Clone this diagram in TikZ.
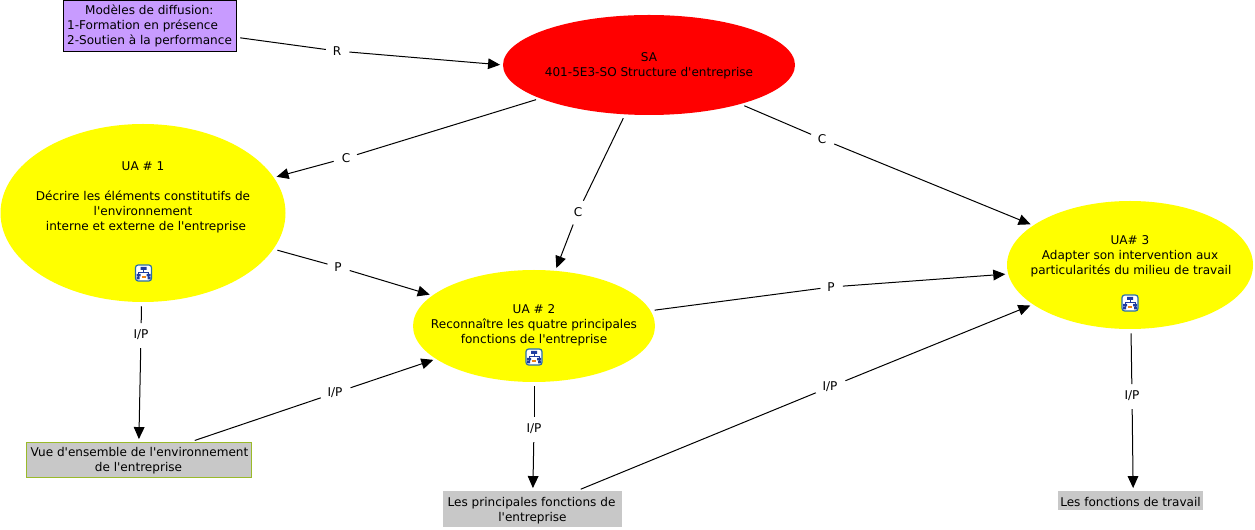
\documentclass[tikz,border=0pt]{standalone}
\usepackage{fontspec}
\newfontfamily\mapfont{DejaVu Sans}
\usetikzlibrary{arrows.meta,shapes.geometric}
\definecolor{jaune}{RGB}{255,255,0}
\definecolor{rouge}{RGB}{255,0,0}
\definecolor{mauve}{RGB}{200,155,255}
\definecolor{grise}{RGB}{200,200,200}
\definecolor{olive}{RGB}{154,186,42}
\definecolor{iconblue}{RGB}{30,60,160}
\definecolor{iconedge}{RGB}{40,110,170}
\newcommand{\tail}[1]{\rule[-#1]{0pt}{#1}}
\newcommand{\head}[1]{\rule{0pt}{#1}}
\tikzset{
	base/.style={font=\mapfont\fontsize{9.05}{11.25}\selectfont,align=center,text=black},
	unit/.style={base,shape=ellipse,inner sep=-30pt,fill=jaune},
	box/.style={base,shape=rectangle,inner sep=0pt,fill=grise},
	lbl/.style={base,inner sep=3pt},
	link/.style={line width=0.75pt,shorten <=3pt,shorten >=2pt},
	arrow/.style={link,-{Triangle[length=9pt,width=8pt]}},
	mapicon/.pic={
		\draw[iconedge,fill=white,line width=0.9pt,rounded corners=2pt] (-8,-8) rectangle (8,8);
		\draw[iconblue,line width=0.5pt] (0,-3) -- (0,-1) (-5,1) -- (-5,-1) -- (5,-1) -- (5,1) (-5,3) -- (-5,5) (5,3) -- (5,5);
		\fill[iconblue] (-3,-6) rectangle (3,-3) (-7,1) rectangle (-3,3.5) (3,1) rectangle (7,3.5) (-7,4) rectangle (-4,6.5) (4,4) rectangle (7,6.5);
		\fill[orange!70!brown] (-2,3) rectangle (2,5.5);
	}
}

\begin{document}
\begin{tikzpicture}[x=0.75pt,y=-0.75pt]
	\useasboundingbox (0,0) rectangle (1255,530);

	\node[base,draw=black,fill=mauve,shape=rectangle,inner sep=0pt,minimum width=129.75pt,minimum height=38.25pt,align=left] (modeles) at (149.5,25.5) {\head{8.4pt}\hspace*{13.5pt}Modèles de diffusion:\\1-Formation en présence\\2-Soutien à la performance};
	\node[unit,fill=rouge,minimum width=219pt,minimum height=75pt] (sa) at (649,65) {\head{8.5pt}SA\\401-5E3-SO Structure d'entreprise};
	\node[unit,minimum width=213.75pt,minimum height=133.5pt] (ua1) at (143,213) {UA \# 1\\[11.25pt]Décrire les éléments constitutifs de\hspace*{3pt}\\l'environnement\hspace*{3pt}\\\hspace*{4.5pt}interne et externe de l'entreprise\tail{25.5pt}};
	\node[unit,minimum width=181.5pt,minimum height=84pt] (ua2) at (534,326) {UA \# 2\\Reconnaître les quatre principales\\fonctions de l'entreprise\tail{3pt}};
	\node[unit,minimum width=184.5pt,minimum height=96pt] (ua3) at (1130,265) {UA\# 3\\Adapter son intervention aux\\\hspace*{1.5pt}particularités du milieu de travail\tail{15pt}};
	\node[box,draw=olive,minimum width=168.75pt,minimum height=26.25pt] (vue) at (138.5,459.5) {\head{8.4pt}\hspace*{1.5pt}Vue d'ensemble de l'environnement\\de l'entreprise};
	\node[box,minimum width=134.25pt,minimum height=27pt] (princ) at (532.5,509) {\head{9.9pt}Les principales fonctions de\hspace*{1.5pt}\\l'entreprise};
	\node[box,minimum width=108.75pt,minimum height=14.25pt] (fonct) at (1130.5,500.5) {\head{8.4pt}Les fonctions de travail};

	\pic at (143.5,273) {mapicon};
	\pic at (534,357) {mapicon};
	\pic at (1130,303) {mapicon};

	\node[lbl] (r)   at (337,51)   {R};
	\node[lbl] (ca)  at (346,158)  {C};
	\node[lbl] (cb)  at (578,212)  {C};
	\node[lbl] (cc)  at (822,139)  {C};
	\node[lbl] (pa)  at (338,267)  {P};
	\node[lbl] (pb)  at (831,287)  {P};
	\node[lbl] (ipa) at (141,335)  {I/P};
	\node[lbl] (ipb) at (335,393)  {I/P};
	\node[lbl] (ipc) at (534,429)  {I/P};
	\node[lbl] (ipd) at (830,387)  {I/P};
	\node[lbl] (ipe) at (1132,396) {I/P};

	\path[link]  (modeles) edge (r);
	\path[arrow] (r) edge (sa.west);
	\path[link]  (sa) edge (ca);
	\path[arrow] (ca) edge (ua1);
	\path[link]  (sa) edge (cb);
	\path[arrow] (cb) edge (ua2);
	\path[link]  (sa) edge (cc);
	\path[arrow] (cc) edge (ua3);
	\path[link]  (ua1) edge (pa);
	\path[arrow] (pa) edge (ua2);
	\path[link]  (ua2) edge (pb);
	\path[arrow] (pb) edge (ua3);
	\path[link]  (ua1) edge (ipa);
	\path[arrow] (ipa) edge (vue);
	\path[link]  (vue) edge (ipb);
	\path[arrow] (ipb) edge (ua2);
	\path[link]  (ua2) edge (ipc);
	\path[arrow] (ipc) edge (princ);
	\path[link]  (princ) edge (ipd);
	\path[arrow] (ipd) edge (ua3);
	\path[link]  (ua3) edge (ipe);
	\path[arrow] (ipe) edge ([xshift=2pt]fonct.north);

\end{tikzpicture}
\end{document}
